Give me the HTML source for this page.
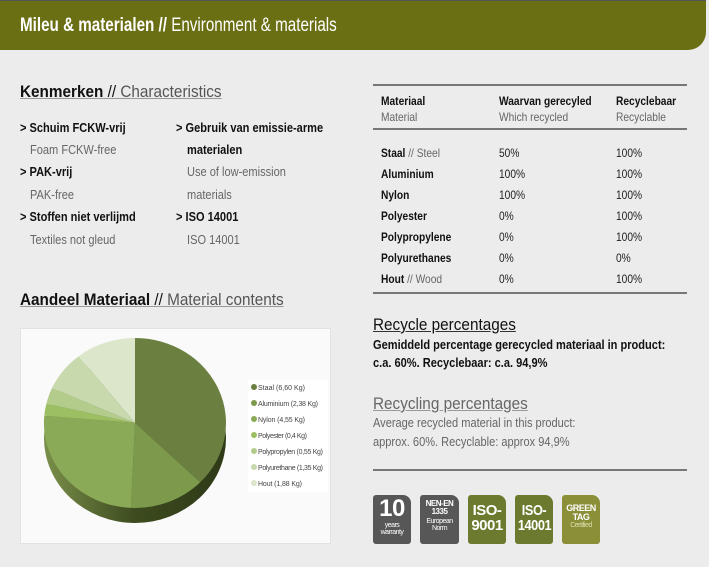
<!DOCTYPE html>
<html><head><meta charset="utf-8"><style>
*{margin:0;padding:0;box-sizing:border-box}
body{width:709px;height:567px;background:#ececec;font-family:"Liberation Sans",sans-serif;position:relative;overflow:hidden;color:#111}
.a{position:absolute;white-space:nowrap}
div.a{transform:scaleX(.85);transform-origin:0 0}
.hdr{position:absolute;left:0;top:0;width:706px;height:50px;background:#6b6f13;border-bottom-right-radius:18px;border-top:1px solid #555}
.h{font-size:17px;text-decoration:underline;text-decoration-color:#999}
div.a.h{transform:scaleX(.9)}
.b{font-weight:bold;font-size:13px}
.g{color:#666;font-size:13px}
.t{font-size:12px}
.line{position:absolute;height:1.5px;background:#777}
.badge{position:absolute;top:495px;height:49px;border-radius:3px 8px 3px 3px;color:#fff;text-align:center;font-weight:bold;line-height:1;letter-spacing:-0.5px}
</style></head><body>
<div class="hdr"></div>
<div class="a" style="left:20px;top:15px;font-size:19px;color:#fff;transform:scaleX(.8)"><b>Mileu &amp; materialen //</b> Environment &amp; materials</div>

<div class="a h" style="left:20px;top:82px"><b>Kenmerken</b> // <span style="color:#555">Characteristics</span></div>
<div class="a b" style="left:20px;top:120px">&gt; Schuim FCKW-vrij</div>
<div class="a g" style="left:30px;top:142px">Foam FCKW-free</div>
<div class="a b" style="left:20px;top:164px">&gt; PAK-vrij</div>
<div class="a g" style="left:30px;top:187px">PAK-free</div>
<div class="a b" style="left:20px;top:209px">&gt; Stoffen niet verlijmd</div>
<div class="a g" style="left:30px;top:232px">Textiles not gleud</div>
<div class="a b" style="left:176px;top:120px">&gt; Gebruik van emissie-arme</div>
<div class="a b" style="left:187px;top:142px">materialen</div>
<div class="a g" style="left:187px;top:164px">Use of low-emission</div>
<div class="a g" style="left:187px;top:187px">materials</div>
<div class="a b" style="left:176px;top:209px">&gt; ISO 14001</div>
<div class="a g" style="left:187px;top:232px">ISO 14001</div>

<div class="a h" style="left:20px;top:290px"><b>Aandeel Materiaal</b> // <span style="color:#555">Material contents</span></div>

<div style="position:absolute;left:20px;top:328px;width:311px;height:216px;background:#fafafa;border:1px solid #e2e2e2"></div>
<svg class="a" style="left:0;top:0" width="340" height="567">
<defs><linearGradient id="d" x1="0" x2="1"><stop offset="0" stop-color="#7a8f4a"/><stop offset="0.5" stop-color="#3d4b1f"/><stop offset="1" stop-color="#2e3917"/></linearGradient></defs>
<ellipse cx="135" cy="438" rx="91" ry="85" fill="url(#d)"/>
<path d="M135,423 L135,338 A91,85 0 0 1 200.2,482.3 Z" fill="#6b8040"/>
<path d="M135,423 L200.2,482.3 A91,85 0 0 1 130.9,507.9 Z" fill="#7d9a4c"/>
<path d="M135,423 L130.9,507.9 A91,85 0 0 1 44.3,415.6 Z" fill="#8aaa58"/>
<path d="M135,423 L44.3,415.6 A91,85 0 0 1 46.4,403.6 Z" fill="#9dbf63"/>
<path d="M135,423 L46.4,403.6 A91,85 0 0 1 52.1,387.9 Z" fill="#b3cc8c"/>
<path d="M135,423 L52.1,387.9 A91,85 0 0 1 78.7,356.2 Z" fill="#c8d9ae"/>
<path d="M135,423 L78.7,356.2 A91,85 0 0 1 135,338 Z" fill="#dce6cb"/>
<g font-size="7" fill="#444" font-family="Liberation Sans,sans-serif">
<rect x="248" y="380" width="80" height="112" fill="#fff"/>
<circle cx="254" cy="387" r="3" fill="#6b8040"/><text x="258" y="390" textLength="47">Staal (6,60 Kg)</text>
<circle cx="254" cy="403" r="3" fill="#7d9a4c"/><text x="258" y="406" textLength="60">Aluminium (2,38 Kg)</text>
<circle cx="254" cy="419" r="3" fill="#8aaa58"/><text x="258" y="422" textLength="47">Nylon (4,55 Kg)</text>
<circle cx="254" cy="435" r="3" fill="#9dbf63"/><text x="258" y="438" textLength="49">Polyester (0,4 Kg)</text>
<circle cx="254" cy="451" r="3" fill="#b3cc8c"/><text x="258" y="454" textLength="65">Polypropylen (0,55 Kg)</text>
<circle cx="254" cy="467" r="3" fill="#c8d9ae"/><text x="258" y="470" textLength="65">Polyurethane (1,35 Kg)</text>
<circle cx="254" cy="483" r="3" fill="#dce6cb"/><text x="258" y="486" textLength="44">Hout (1,88 Kg)</text>
</g></svg>

<div class="line" style="left:373px;top:84px;width:314px"></div>
<div class="a b t" style="left:381px;top:94px">Materiaal</div>
<div class="a g t" style="left:381px;top:110px">Material</div>
<div class="a b t" style="left:499px;top:94px">Waarvan gerecyled</div>
<div class="a g t" style="left:499px;top:110px">Which recycled</div>
<div class="a b t" style="left:616px;top:94px">Recyclebaar</div>
<div class="a g t" style="left:616px;top:110px">Recyclable</div>
<div class="line" style="left:373px;top:128px;width:314px"></div>
<div class="a t" style="left:381px;top:143px;line-height:21px">
<b>Staal</b> <span style="color:#666">// Steel</span><br><b>Aluminium</b><br><b>Nylon</b><br><b>Polyester</b><br><b>Polypropylene</b><br><b>Polyurethanes</b><br><b>Hout</b> <span style="color:#666">// Wood</span></div>
<div class="a t" style="left:499px;top:143px;line-height:21px;color:#222">50%<br>100%<br>100%<br>0%<br>0%<br>0%<br>0%</div>
<div class="a t" style="left:616px;top:143px;line-height:21px;color:#222">100%<br>100%<br>100%<br>100%<br>100%<br>0%<br>100%</div>
<div class="line" style="left:373px;top:292px;width:314px"></div>

<div class="a h" style="left:373px;top:315px;text-decoration-color:#333">Recycle percentages</div>
<div class="a b" style="left:373px;top:337px">Gemiddeld percentage gerecycled materiaal in product:</div>
<div class="a b" style="left:373px;top:355px">c.a. 60%. Recyclebaar: c.a. 94,9%</div>
<div class="a h" style="left:373px;top:394px;color:#666">Recycling percentages</div>
<div class="a g" style="left:373px;top:415px">Average recycled material in this product:</div>
<div class="a g" style="left:373px;top:434px">approx. 60%. Recyclable: approx 94,9%</div>
<div class="line" style="left:373px;top:469px;width:314px"></div>

<div class="badge" style="left:373px;width:38px;background:#575757"><div style="font-size:24px;margin-top:2px">10</div><div style="font-size:7px;font-weight:normal;margin-top:1px">years<br>warranty</div></div>
<div class="badge" style="left:420px;width:39px;background:#575757"><div style="font-size:8px;margin-top:5px">NEN-EN<br>1335</div><div style="font-size:7px;font-weight:normal;margin-top:2px">European<br>Norm</div></div>
<div class="badge" style="left:468px;width:38px;background:#6b7a2e"><div style="font-size:15px;margin-top:8px">ISO-<br>9001</div></div>
<div class="badge" style="left:515px;width:38px;background:#6b7a2e"><div style="font-size:15px;margin-top:8px;transform:scaleX(.85)">ISO-<br>14001</div></div>
<div class="badge" style="left:562px;width:38px;background:#8a8f38"><div style="font-size:9px;margin-top:9px">GREEN<br>TAG</div><div style="font-size:7px;font-weight:normal;color:#dde0b0">Certified</div></div>
</body></html>
